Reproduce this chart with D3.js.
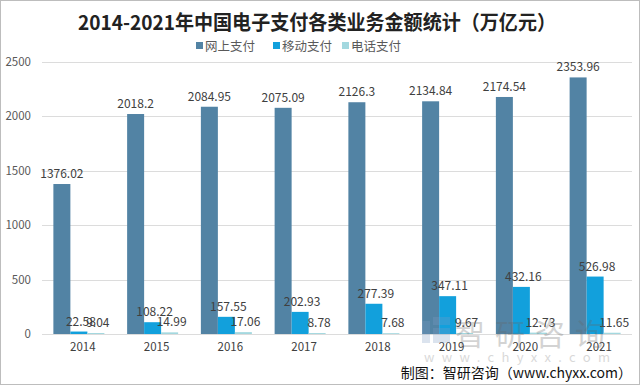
<!DOCTYPE html>
<html><head><meta charset="utf-8">
<script src="https://cdn.jsdelivr.net/npm/d3@7"></script>
<style>body{margin:0;background:#fff}svg{display:block}</style>
</head><body>
<svg id="c" width="640" height="385"></svg>
<script>
const years = ["2014","2015","2016","2017","2018","2019","2020","2021"];
const online = [1376.02,2018.2,2084.95,2075.09,2126.3,2134.84,2174.54,2353.96];
const mobile = [22.58,108.22,157.55,202.93,277.39,347.11,432.16,526.98];
const phone = [9.04,14.99,17.06,8.78,7.68,9.67,12.73,11.65];
const seriesNames = ["网上支付","移动支付","电话支付"];
const colors = ["#5283a4","#12a0dc","#a3d8df"];
const yTicks = [0,500,1000,1500,2000,2500];

const svg = d3.select("#c");
const font = "'Noto Sans CJK SC','Noto Sans',sans-serif";
svg.append("rect").attr("x",0.5).attr("y",0.5).attr("width",639).attr("height",384)
  .attr("fill","#fff").attr("stroke","#bdbdbd");

const x = d3.scaleBand().domain(years).range([42,632]);
const y = d3.scaleLinear().domain([0,2500]).range([334,61.5]);
const bw = 17;
const series = [online, mobile, phone];

// grid
svg.append("g").selectAll("line").data(yTicks).join("line")
  .attr("x1",42).attr("x2",632).attr("y1",d=>Math.round(y(d))+0.5).attr("y2",d=>Math.round(y(d))+0.5)
  .attr("stroke","#dcdcdc");

// y axis labels
const yAxis = svg.append("g").attr("transform","translate(31,0)")
  .call(d3.axisLeft(y).tickValues(yTicks).tickFormat(d3.format("d")).tickSize(0).tickPadding(0));
yAxis.select(".domain").remove();
yAxis.selectAll("text").attr("font-family",font).attr("font-size",11.5).attr("fill","#595959");

// x axis labels
const xAxis = svg.append("g").attr("transform","translate(4,343)")
  .call(d3.axisBottom(x).tickSize(0).tickPadding(0));
xAxis.select(".domain").remove();
xAxis.selectAll("text").attr("font-family",font).attr("font-size",11.5).attr("fill","#404040");

// bars
series.forEach((vals,si)=>{
  const g = svg.append("g");
  g.selectAll("rect").data(vals).join("rect")
    .attr("x",(d,i)=>x(years[i])+x.bandwidth()/2-1.5*bw+si*bw)
    .attr("y",d=>y(d)).attr("width",bw).attr("height",d=>y(0)-y(d))
    .attr("fill",colors[si]);
});
series.forEach((vals,si)=>{
  svg.append("g").selectAll("text").data(vals).join("text")
    .attr("x",(d,i)=>x(years[i])+x.bandwidth()/2-bw+si*bw+ (si===0?0:2))
    .attr("y",d=>y(d)-6)
    .attr("text-anchor","middle").attr("font-family",font).attr("font-size",12).attr("fill","#404040")
    .text(d=>d);
});

// watermark (on top, translucent)
const wm = svg.append("g").attr("opacity",0.28);
wm.append("rect").attr("x",422).attr("y",321).attr("width",8).attr("height",22).attr("fill","#7f9cc6");
wm.append("rect").attr("x",433).attr("y",317).attr("width",17).attr("height",8).attr("fill","#7f9cc6");
wm.append("rect").attr("x",433).attr("y",328).attr("width",17).attr("height",15).attr("fill","#7f9cc6");
wm.append("text").attr("x",455).attr("y",345).attr("font-family",font).attr("font-size",30)
  .attr("fill","#666").attr("textLength",150).attr("lengthAdjust","spacing").text("智研咨询");
wm.append("text").attr("x",424).attr("y",362).attr("font-family",font).attr("font-size",13)
  .attr("fill","#777").attr("textLength",186).attr("lengthAdjust","spacing").text("www.chyxx.com");

// title
svg.append("text").attr("x",78).attr("y",30)
  .attr("font-family",font).attr("font-size",20).attr("font-weight","bold").attr("fill","#222")
  .attr("textLength",478).attr("lengthAdjust","spacingAndGlyphs")
  .text("2014-2021年中国电子支付各类业务金额统计（万亿元）");

// legend
const legX = [196,273,342];
seriesNames.forEach((n,i)=>{
  svg.append("rect").attr("x",legX[i]).attr("y",42).attr("width",7).attr("height",7).attr("fill",colors[i]);
  svg.append("text").attr("x",legX[i]+9).attr("y",51).attr("font-family",font).attr("font-size",12.5)
    .attr("fill","#595959").text(n);
});

// source
svg.append("text").attr("x",632).attr("y",378).attr("text-anchor","end").attr("font-family",font)
  .attr("font-size",14).attr("fill","#111").text("制图：智研咨询（www.chyxx.com）");
</script>
</body></html>
